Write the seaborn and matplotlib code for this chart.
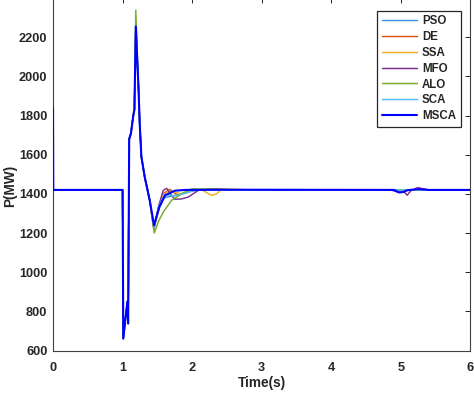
import pandas as pd
import matplotlib
matplotlib.use("Agg")
import matplotlib.pyplot as plt
import seaborn as sns

# shared part of the response (before the peak), all methods identical here
t_start = [0, 0.004, 1.0, 1.01, 1.04, 1.07, 1.08, 1.095, 1.12, 1.154, 1.17]
p_start = [1840, 1420, 1420, 661, 760, 850, 738, 1680, 1709, 1800, 1830]

# descent after the peak (common to all)
t_fall = [1.23, 1.246, 1.27, 1.318, 1.39]
p_fall = [1930, 1760, 1590, 1486, 1367]

methods = ["PSO", "DE", "SSA", "MFO", "ALO", "SCA", "MSCA"]
colors = ["#3f8fdc", "#D95319", "#EDB120", "#7E2F8E", "#77AC30", "#4DBEEE", "#0000FF"]

peak_pso, peak_de, peak_ssa, peak_mfo, peak_alo, peak_sca, peak_msca = 2255, 2255, 2255, 2255, 2338, 2255, 2255

t_pso = [1.45, 1.53, 1.6, 1.75, 1.95, 2.1, 6.0]
p_pso = [1232, 1330, 1380, 1392, 1410, 1420, 1420]

t_de = [1.45, 1.53, 1.6, 1.68, 1.74, 1.8, 1.9, 2.0, 2.3, 2.6, 6.0]
p_de = [1215, 1350, 1405, 1423, 1405, 1392, 1405, 1418, 1422, 1420, 1420]

t_ssa = [1.45, 1.52, 1.585, 1.65, 1.72, 1.84, 1.99, 2.15, 2.28, 2.35, 2.42, 2.6, 2.8, 6.0]
p_ssa = [1222, 1340, 1392, 1410, 1412, 1400, 1422, 1418, 1392, 1400, 1422, 1424, 1420, 1420]

t_mfo = [1.45, 1.52, 1.585, 1.634, 1.69, 1.75, 1.85, 1.945, 2.09, 2.3, 2.6, 4.85, 4.95, 5.05, 5.09, 5.14, 5.24, 5.4, 6.0]
p_mfo = [1225, 1340, 1418, 1428, 1400, 1372, 1374, 1384, 1418, 1426, 1420, 1420, 1410, 1408, 1393, 1415, 1432, 1420, 1420]

t_alo = [1.455, 1.52, 1.585, 1.705, 1.85, 1.99, 2.3, 2.6, 6.0]
p_alo = [1200, 1262, 1307, 1367, 1400, 1425, 1425, 1420, 1420]

t_sca = [1.45, 1.53, 1.61, 1.73, 1.9, 2.05, 2.4, 6.0]
p_sca = [1228, 1345, 1398, 1389, 1402, 1422, 1420, 1420]

t_msca = [1.452, 1.53, 1.61, 1.75, 1.9, 2.5, 4.9, 4.97, 5.03, 5.1, 5.25, 5.4, 6.0]
p_msca = [1239, 1335, 1392, 1416, 1420, 1421, 1420, 1407, 1409, 1419, 1424, 1420, 1420]

tails = {
    "PSO": (peak_pso, t_pso, p_pso),
    "DE": (peak_de, t_de, p_de),
    "SSA": (peak_ssa, t_ssa, p_ssa),
    "MFO": (peak_mfo, t_mfo, p_mfo),
    "ALO": (peak_alo, t_alo, p_alo),
    "SCA": (peak_sca, t_sca, p_sca),
    "MSCA": (peak_msca, t_msca, p_msca),
}

sns.set_style("white")
plt.rcParams["font.family"] = ["Liberation Sans", "DejaVu Sans"]
plt.rcParams["font.weight"] = "bold"

fig = plt.figure(figsize=(4.74, 3.95), dpi=100)
ax = fig.add_axes([53 / 474, 44.5 / 395, 417.5 / 474, 352.5 / 395])

dark = "#262626"
for name, col in zip(methods, colors):
    peak, t_tail, p_tail = tails[name]
    df = pd.DataFrame({
        "t": t_start + [1.19] + t_fall + t_tail,
        "p": p_start + [peak] + p_fall + p_tail,
    })
    lw = 1.5 if name == "MSCA" else 1.05
    sns.lineplot(data=df, x="t", y="p", ax=ax, color=col, linewidth=lw,
                 label=name, sort=False, estimator=None, zorder=3)

ax.set_xlim(0, 6)
ax.set_ylim(600, 2400)
ax.set_xticks([0, 1, 2, 3, 4, 5, 6])
ax.set_yticks([600, 800, 1000, 1200, 1400, 1600, 1800, 2000, 2200])

ax.tick_params(direction="in", length=3.5, width=0.7, colors=dark,
               top=True, right=True, labelsize=9.2)
ax.tick_params(axis="x", pad=8)
ax.tick_params(axis="y", pad=4)
for lab in ax.get_xticklabels() + ax.get_yticklabels():
    lab.set_fontweight("bold")

for sp in ax.spines.values():
    sp.set_color("#404040")
    sp.set_linewidth(0.8)

ax.set_xlabel("Time(s)", fontsize=9.8, fontweight="bold", color=dark, labelpad=2)
ax.set_ylabel("P(MW)", fontsize=9.8, fontweight="bold", color=dark, labelpad=3)
ax.yaxis.set_label_coords(-0.085, 0.467)

leg = ax.legend(loc="upper right", bbox_to_anchor=(0.9765, 0.964), borderaxespad=0,
                prop={"weight": "bold", "size": 8.3}, frameon=True, fancybox=False,
                framealpha=1, edgecolor=dark, handlelength=3.1, handletextpad=0.4,
                labelspacing=0.33, borderpad=0.4)
leg.get_frame().set_linewidth(0.9)
leg.set_zorder(5)

fig.savefig("out.png", dpi=100)
